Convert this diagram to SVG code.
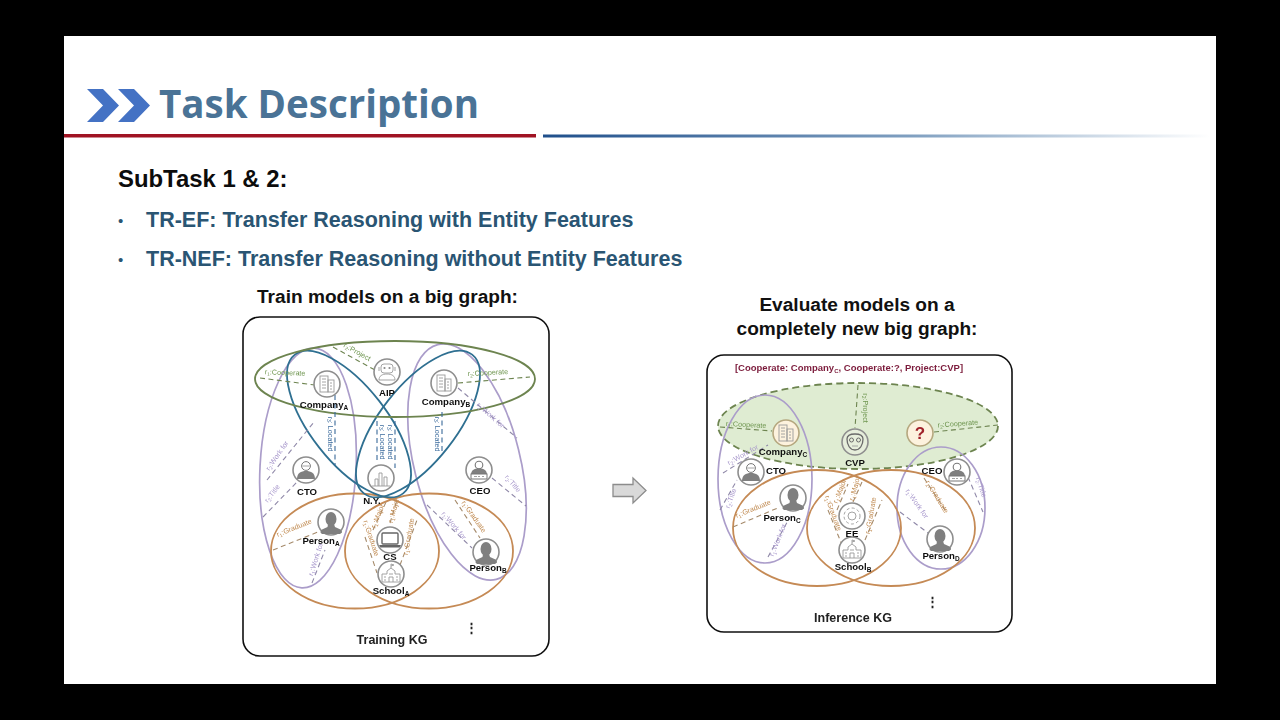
<svg xmlns="http://www.w3.org/2000/svg" xmlns:xlink="http://www.w3.org/1999/xlink" width="1280" height="720" viewBox="0 0 1280 720">
<style>
text{font-family:"Liberation Sans",Arial,sans-serif}
.frame{fill:#fff;stroke:#111;stroke-width:1.6}
.pu{fill:none;stroke:#ab9dca;stroke-width:1.7}
.or{fill:none;stroke:#c58a55;stroke-width:1.8}
.bl{fill:none;stroke:#2f6f91;stroke-width:1.8}
.gr{fill:none;stroke:#6d8450;stroke-width:1.8}
.grd{fill:#dfecd2;stroke:#6d8450;stroke-width:1.8;stroke-dasharray:7 4}
.d{fill:none;stroke-width:1.1;stroke-dasharray:5 3.5}
.dg{stroke:#6d8450}.db{stroke:#3a6a9a}.dp{stroke:#8f88a8}.do{stroke:#a58a6a}
.lb{font-size:7.2px;text-anchor:middle}
.tg{fill:#6f9650}.tb{fill:#3e6d9e}.tp{fill:#a898cc}.to{fill:#c08a50}
.sub{font-size:5px}
.ring{fill:#fff;stroke:#8e8e8e;stroke-width:1.6}
.warm{fill:#fdf2de;stroke:#b5a77f;stroke-width:1.6}
.pale{fill:#e6eedb;stroke:#8e8e8e;stroke-width:1.6}
.nm{font-size:9.6px;font-weight:bold;text-anchor:middle;fill:#111}
.nms{font-size:6.5px}
.ic{fill:none;stroke:#9a9a9a;stroke-width:.9}
.sil{fill:#7f7f7f}
.t1{font-family:"Open Sans","Noto Sans",sans-serif;font-size:38.5px;font-weight:bold;fill:#4a7396}
.h1{font-size:23.9px;font-weight:bold;fill:#0c0c0c}
.li{font-size:21.5px;font-weight:bold;fill:#2a5573}
.bu{font-size:15px;fill:#2a5573}
.cap{font-size:19.1px;font-weight:bold;fill:#111;text-anchor:middle}
.kg{font-size:12.5px;font-weight:bold;fill:#222;text-anchor:middle}
</style>
<defs>
<linearGradient id="fade" x1="0" x2="1" y1="0" y2="0"><stop offset="0" stop-color="#1f4f8b"/><stop offset=".55" stop-color="#7f9fc0"/><stop offset="1" stop-color="#fff"/></linearGradient>
<filter id="soft" x="-2%" y="-2%" width="104%" height="104%"><feGaussianBlur stdDeviation=".35"/></filter>
<g id="i-bld"><rect class="ic" x="-7" y="-8" width="8" height="16"/><rect class="ic" x="1" y="-4" width="6" height="12"/><path class="ic" d="M-5-5h4M-5-2h4M-5 1h4M-5 4h4M3-1h2M3 2h2M3 5h2"/></g>
<g id="i-bot"><rect class="ic" x="-6" y="-8" width="12" height="9" rx="3"/><circle cx="-2.500" cy="-4" r="1.100" fill="#8a8a8a"/><circle cx="2.500" cy="-4" r="1.100" fill="#8a8a8a"/><path class="ic" d="M-8-5v4M8-5v4M-8 8c0-4 3-6 8-6s8 2 8 6z"/></g>
<g id="i-per"><ellipse class="sil" cx="0" cy="-3" rx="5.500" ry="7"/><path class="sil" d="M-3 2h6l1 3 5.500 2.500c1 .6 1.500 1.500 1.500 3l-2 1.500h-18l-1.500-1.500c0-1.500.5-2.400 1.500-3l5.500-2.500z"/></g>
<g id="i-cto"><circle cx="0" cy="-4" r="4.400" fill="#fff" stroke="#777" stroke-width="1"/><path class="ic" d="M-3.500-4h7"/><path class="sil" d="M-9 9c0-6 4-8 9-8s9 2 9 8z"/></g>
<g id="i-ceo"><circle cx="0" cy="-5" r="3.800" fill="#fff" stroke="#777" stroke-width="1.100"/><path class="sil" d="M-8 5c0-5 3-6.500 8-6.500s8 1.500 8 6.500z"/><rect x="-8" y="4" width="16" height="5" fill="#fff" stroke="#777"/><path class="ic" d="M-5 6.500h3M-1 6.500h2M3 6.500h2"/></g>
<g id="i-lap"><rect x="-8" y="-7" width="16" height="11" rx="1" fill="#fff" stroke="#666" stroke-width="1.400"/><path d="M-11 5h22l-1.500 2.500h-19z" fill="#666"/></g>
<g id="i-sch"><path class="ic" d="M-9 8v-8h5v-3l4-3 4 3v3h5v8zM0-6v-4l3 1-3 1"/><path class="ic" d="M-7 3h2M-7 6h2M5 3h2M5 6h2M-2 8v-5h4v5M-2 0h4"/></g>
<g id="i-cty"><path class="ic" d="M-9 8h18M-6 8v-7h3v7M-2 8v-13h3v13M3 8v-9h3v9"/></g>
<g id="i-gear"><circle class="ic" r="4"/><circle class="ic" r="8" stroke-dasharray="3 2.300" stroke-width="1.800"/></g>
<g id="i-dog"><path d="M-8-3c0-4 3-5 8-5s8 1 8 5c0 6-3 11-8 11s-8-5-8-11z" fill="none" stroke="#6a6a6a" stroke-width="1.300"/><circle cx="-3.500" cy="-2" r="2" fill="none" stroke="#6a6a6a"/><circle cx="3.500" cy="-2" r="2" fill="none" stroke="#6a6a6a"/><path class="ic" d="M-3 4h6"/></g>
</defs>

<rect x="0" y="0" width="1280" height="720" fill="#000"/>
<rect x="64" y="36" width="1152" height="648" fill="#fff"/>

<g id="header">
<path d="M87 89h16l16 16.500-16 16.500h-16l16-16.500z" fill="#4472c4"/>
<path d="M118 89h16l16 16.500-16 16.500h-16l16-16.500z" fill="#4472c4"/>
<text class="t1" x="159" y="118">Task Description</text>
<rect x="64" y="134" width="472" height="3.500" fill="#a01323"/>
<rect x="543" y="134.500" width="667" height="3" fill="url(#fade)"/>
</g>
<g id="body-text">
<text class="h1" x="118" y="187">SubTask 1 &amp; 2:</text>
<text class="bu" x="118" y="226">•</text>
<text class="li" x="146" y="227">TR-EF: Transfer Reasoning with Entity Features</text>
<text class="bu" x="118" y="265">•</text>
<text class="li" x="146" y="266">TR-NEF: Transfer Reasoning without Entity Features</text>
<text class="cap" x="387.500" y="303">Train models on a big graph:</text>
<text class="cap" x="857" y="311">Evaluate models on a</text>
<text class="cap" x="857" y="335">completely new big graph:</text>
</g>

<g id="training-kg" filter="url(#soft)">
<rect class="frame" x="243" y="317" width="306" height="339" rx="17"/>
<g id="train-regions">
<ellipse class="pu" cx="308" cy="468" rx="48" ry="120" transform="rotate(3 308 468)"/>
<ellipse class="pu" cx="467" cy="462" rx="53" ry="121" transform="rotate(-14 467 462)"/>
<ellipse class="or" cx="355" cy="551" rx="84" ry="57.500"/>
<ellipse class="or" cx="429" cy="551" rx="84" ry="57.500"/>
<ellipse class="bl" cx="349" cy="424" rx="88" ry="38" transform="rotate(52 349 424)"/>
<ellipse class="bl" cx="418" cy="424" rx="88" ry="38" transform="rotate(-52 418 424)"/>
<ellipse class="gr" cx="395" cy="379" rx="140" ry="38"/>
</g>
<g id="train-connectors">
<path class="d dg" d="M260 378L315 385M333 347L375 370M458 383L530 377"/>
<path class="d db" d="M335 395V465M377 421V462M395 421V468M442 412V455"/>
<path class="d dp" d="M267 480L314 422M263 517L297 482M312 583L325 550M458 388L517 438M427 505L472 548M492 478L526 506"/>
<path class="d do" d="M273 550L318 532M365 537L377 573M397 573L417 520M373 530L387 500M390 523L397 500M455 500L480 538"/>
<text class="lb tg" transform="translate(285 375) rotate(2)">r<tspan class="sub" dy="1.500">1</tspan><tspan dy="-1.500">:Cooperate</tspan></text>
<text class="lb tg" transform="translate(356 354) rotate(29)">r<tspan class="sub" dy="1.500">2</tspan><tspan dy="-1.500">:Project</tspan></text>
<text class="lb tg" transform="translate(488 375) rotate(-3)">r<tspan class="sub" dy="1.500">2</tspan><tspan dy="-1.500">:Cooperate</tspan></text>
<text class="lb tb" transform="translate(328 434) rotate(90)">r<tspan class="sub" dy="1.500">3</tspan><tspan dy="-1.500">: Located</tspan></text>
<text class="lb tb" transform="translate(380 442) rotate(90)">r<tspan class="sub" dy="1.500">3</tspan><tspan dy="-1.500">: Located</tspan></text>
<text class="lb tb" transform="translate(388 442) rotate(90)">r<tspan class="sub" dy="1.500">3</tspan><tspan dy="-1.500">: Located</tspan></text>
<text class="lb tb" transform="translate(435 434) rotate(90)">r<tspan class="sub" dy="1.500">3</tspan><tspan dy="-1.500">: Located</tspan></text>
<text class="lb tp" transform="translate(279 457) rotate(-55)">r<tspan class="sub" dy="1.500">2</tspan><tspan dy="-1.500">:Work for</tspan></text>
<text class="lb tp" transform="translate(274 495) rotate(-52)">r<tspan class="sub" dy="1.500">2</tspan><tspan dy="-1.500">:Title</tspan></text>
<text class="lb tp" transform="translate(318 560) rotate(-72)">r<tspan class="sub" dy="1.500">1</tspan><tspan dy="-1.500">:Work for</tspan></text>
<text class="lb tp" transform="translate(489 417) rotate(42)">r<tspan class="sub" dy="1.500">2</tspan><tspan dy="-1.500">:Work for</tspan></text>
<text class="lb tp" transform="translate(452 527) rotate(50)">r<tspan class="sub" dy="1.500">1</tspan><tspan dy="-1.500">:Work for</tspan></text>
<text class="lb tp" transform="translate(511 485) rotate(50)">r<tspan class="sub" dy="1.500">2</tspan><tspan dy="-1.500">:Title</tspan></text>
<text class="lb to" transform="translate(295 530) rotate(-22)">r<tspan class="sub" dy="1.500">1</tspan><tspan dy="-1.500">:Graduate</tspan></text>
<text class="lb to" transform="translate(369 539) rotate(72)">r<tspan class="sub" dy="1.500">1</tspan><tspan dy="-1.500">:Graduate</tspan></text>
<text class="lb to" transform="translate(411 537) rotate(-80)">r<tspan class="sub" dy="1.500">1</tspan><tspan dy="-1.500">:Graduate</tspan></text>
<text class="lb to" transform="translate(380 517) rotate(-68)">r<tspan class="sub" dy="1.500">1</tspan><tspan dy="-1.500">:Major</tspan></text>
<text class="lb to" transform="translate(396 511) rotate(-75)">r<tspan class="sub" dy="1.500">1</tspan><tspan dy="-1.500">:Major</tspan></text>
<text class="lb to" transform="translate(472 518) rotate(55)">r<tspan class="sub" dy="1.500">1</tspan><tspan dy="-1.500">:Graduate</tspan></text>
</g>
<g id="n-company-a"><circle class="ring" cx="327" cy="384" r="13"/><use href="#i-bld" x="327" y="384"/><text class="nm" x="324" y="408">Company<tspan class="nms" dy="2">A</tspan></text></g>
<g id="n-aip"><circle class="ring" cx="387" cy="372" r="13"/><use href="#i-bot" x="387" y="372"/><text class="nm" x="387" y="396">AIP</text></g>
<g id="n-company-b"><circle class="ring" cx="444" cy="383" r="13"/><use href="#i-bld" x="444" y="383"/><text class="nm" x="446" y="405">Company<tspan class="nms" dy="2">B</tspan></text></g>
<g id="n-cto-a"><circle class="ring" cx="306" cy="470" r="13"/><use href="#i-cto" x="306" y="470"/><text class="nm" x="307" y="495">CTO</text></g>
<g id="n-ny"><circle class="ring" cx="381" cy="478" r="13"/><use href="#i-cty" x="381" y="478"/><text class="nm" x="372" y="504">N.Y.</text></g>
<g id="n-ceo-a"><circle class="ring" cx="479" cy="470" r="13"/><use href="#i-ceo" x="479" y="470"/><text class="nm" x="480" y="494">CEO</text></g>
<g id="n-person-a"><circle class="ring" cx="331" cy="522" r="13"/><use href="#i-per" x="331" y="522"/><text class="nm" x="321" y="544">Person<tspan class="nms" dy="2">A</tspan></text></g>
<g id="n-cs"><circle class="ring" cx="390" cy="540" r="13"/><use href="#i-lap" x="390" y="540"/><text class="nm" x="390" y="560">CS</text></g>
<g id="n-school-a"><circle class="ring" cx="391" cy="574" r="13"/><use href="#i-sch" x="391" y="574"/><text class="nm" x="391" y="594">School<tspan class="nms" dy="2">A</tspan></text></g>
<g id="n-person-b"><circle class="ring" cx="486" cy="552" r="13"/><use href="#i-per" x="486" y="552"/><text class="nm" x="488" y="571">Person<tspan class="nms" dy="2">B</tspan></text></g>
<text class="kg" x="392" y="644">Training KG</text>
<text class="kg" x="471" y="632" style="font-size:13px">⋮</text>
</g>

<g id="arrow"><path d="M613 484.500h20v-6.500l13 12.500-13 12.500v-6.500h-20z" fill="#d9d9d9" stroke="#8c8c8c" stroke-width="1.300"/></g>

<g id="inference-kg" filter="url(#soft)">
<rect class="frame" x="707" y="355" width="305" height="277" rx="17"/>
<text x="849" y="371" font-size="9.500" font-weight="bold" fill="#7c1c3c" text-anchor="middle">[Cooperate: Company<tspan font-size="6" dy="1.500">C</tspan><tspan dy="-1.500">, Cooperate:?, Project:CVP]</tspan></text>
<g id="inf-regions">
<ellipse class="grd" cx="858" cy="426" rx="140" ry="43"/>
<ellipse class="pu" cx="765" cy="479" rx="47" ry="84"/>
<ellipse class="pu" cx="941" cy="508" rx="44" ry="61"/>
<ellipse class="or" cx="817" cy="528" rx="84" ry="58"/>
<ellipse class="or" cx="891" cy="528" rx="84" ry="58"/>
</g>
<g id="inf-connectors">
<path class="d dg" d="M720 427L772 431M858 385L855 428M934 432L998 425"/>
<path class="d dp" d="M723 473L768 445M720 510L737 480M768 557L790 517M900 512L928 533M968 477L983 512"/>
<path class="d do" d="M733 527L780 507M828 510L842 545M865 540L882 500M837 510L848 484M853 502L862 482M924 478L945 510"/>
<text class="lb tg" transform="translate(746 427) rotate(3)">r<tspan class="sub" dy="1.500">1</tspan><tspan dy="-1.500">:Cooperate</tspan></text>
<text class="lb tg" transform="translate(863 408) rotate(90)">r<tspan class="sub" dy="1.500">2</tspan><tspan dy="-1.500">:Project</tspan></text>
<text class="lb tg" transform="translate(958 426) rotate(-4)">r<tspan class="sub" dy="1.500">2</tspan><tspan dy="-1.500">:Cooperate</tspan></text>
<text class="lb tp" transform="translate(744 457) rotate(-29)">r<tspan class="sub" dy="1.500">2</tspan><tspan dy="-1.500">:Work for</tspan></text>
<text class="lb tp" transform="translate(733 499) rotate(-70)">r<tspan class="sub" dy="1.500">2</tspan><tspan dy="-1.500">:Title</tspan></text>
<text class="lb tp" transform="translate(780 541) rotate(-68)">r<tspan class="sub" dy="1.500">1</tspan><tspan dy="-1.500">:Work for</tspan></text>
<text class="lb tp" transform="translate(915 505) rotate(55)">r<tspan class="sub" dy="1.500">1</tspan><tspan dy="-1.500">:Work for</tspan></text>
<text class="lb tp" transform="translate(979 488) rotate(72)">r<tspan class="sub" dy="1.500">2</tspan><tspan dy="-1.500">:Title</tspan></text>
<text class="lb to" transform="translate(754 511) rotate(-22)">r<tspan class="sub" dy="1.500">1</tspan><tspan dy="-1.500">:Graduate</tspan></text>
<text class="lb to" transform="translate(831 514) rotate(70)">r<tspan class="sub" dy="1.500">1</tspan><tspan dy="-1.500">:Graduate</tspan></text>
<text class="lb to" transform="translate(873 516) rotate(-80)">r<tspan class="sub" dy="1.500">1</tspan><tspan dy="-1.500">:Graduate</tspan></text>
<text class="lb to" transform="translate(842 492) rotate(-68)">r<tspan class="sub" dy="1.500">1</tspan><tspan dy="-1.500">:Major</tspan></text>
<text class="lb to" transform="translate(857 489) rotate(-75)">r<tspan class="sub" dy="1.500">1</tspan><tspan dy="-1.500">:Major</tspan></text>
<text class="lb to" transform="translate(935 498) rotate(58)">r<tspan class="sub" dy="1.500">1</tspan><tspan dy="-1.500">:Graduate</tspan></text>
</g>
<g id="n-company-c"><circle class="warm" cx="786" cy="433" r="13"/><use href="#i-bld" x="786" y="433"/><text class="nm" x="783" y="455">Company<tspan class="nms" dy="2">C</tspan></text></g>
<g id="n-cvp"><circle class="pale" cx="855" cy="442" r="13"/><use href="#i-dog" x="855" y="442"/><text class="nm" x="855" y="466">CVP</text></g>
<g id="n-question"><circle class="warm" cx="920" cy="433" r="13"/><text x="920" y="439" font-size="17" font-weight="bold" fill="#a0202a" text-anchor="middle">?</text></g>
<g id="n-cto-c"><circle class="ring" cx="751" cy="472" r="13"/><use href="#i-cto" x="751" y="472"/><text class="nm" x="776" y="474">CTO</text></g>
<g id="n-ceo-c"><circle class="ring" cx="957" cy="472" r="13"/><use href="#i-ceo" x="957" y="472"/><text class="nm" x="932" y="474">CEO</text></g>
<g id="n-person-c"><circle class="ring" cx="793" cy="498" r="13"/><use href="#i-per" x="793" y="498"/><text class="nm" x="782" y="521">Person<tspan class="nms" dy="2">C</tspan></text></g>
<g id="n-ee"><circle class="ring" cx="852" cy="516" r="13"/><use href="#i-gear" x="852" y="516"/><text class="nm" x="852" y="537">EE</text></g>
<g id="n-school-b"><circle class="ring" cx="852" cy="550" r="13"/><use href="#i-sch" x="852" y="550"/><text class="nm" x="853" y="570">School<tspan class="nms" dy="2">B</tspan></text></g>
<g id="n-person-d"><circle class="ring" cx="940" cy="539" r="13"/><use href="#i-per" x="940" y="539"/><text class="nm" x="941" y="559">Person<tspan class="nms" dy="2">D</tspan></text></g>
<text class="kg" x="853" y="622">Inference KG</text>
<text class="kg" x="932" y="606" style="font-size:13px">⋮</text>
</g>
</svg>
